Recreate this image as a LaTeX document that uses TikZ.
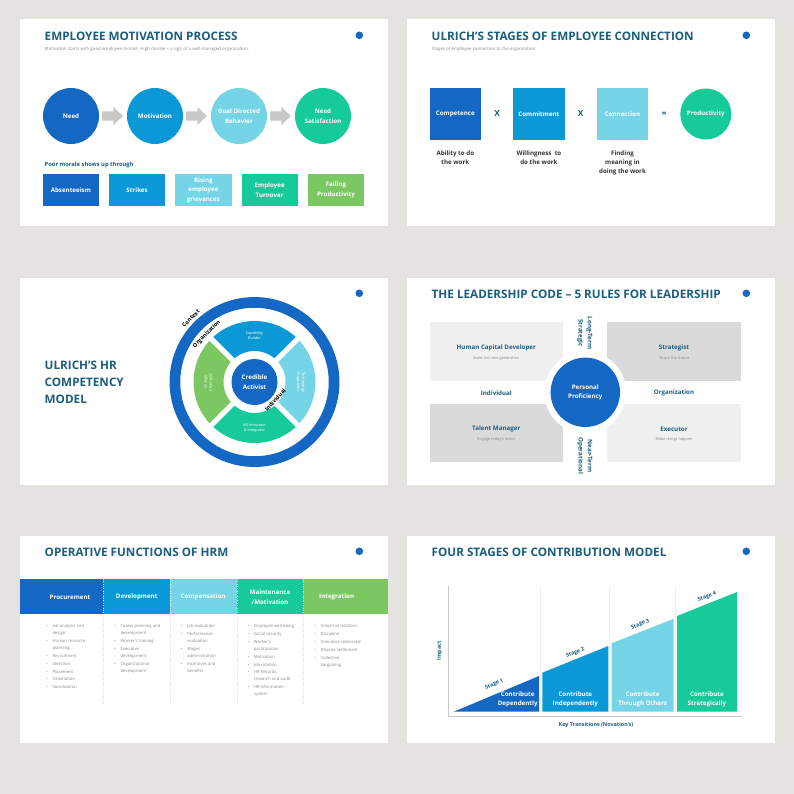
\documentclass[tikz,border=0pt]{standalone}
\usepackage{fontspec}
\setmainfont{Open Sans}
\usetikzlibrary{positioning}

\definecolor{cback}{HTML}{E4E3DF}
\definecolor{cdark}{HTML}{1468C3}
\definecolor{cmid}{HTML}{0A99D6}
\definecolor{clight}{HTML}{75D5E7}
\definecolor{cteal}{HTML}{17CA9A}
\definecolor{cgreen}{HTML}{7BC863}
\definecolor{ctitle}{HTML}{1B5E7E}
\definecolor{ctext}{HTML}{333333}
\definecolor{cnote}{HTML}{8A8A8A}
\definecolor{cpale}{HTML}{F0F0F0}
\definecolor{cgrey}{HTML}{DADADA}
\definecolor{carrow}{HTML}{C8C8C8}

\tikzset{
  slide/.style={fill=white},
  heading/.style={anchor=base west, inner sep=0, text=ctitle,
    font=\bfseries\fontsize{11.7}{16.8}\selectfont, align=left},
  subline/.style={anchor=base west, inner sep=0, text=cnote,
    font=\fontsize{4.4}{5}\selectfont},
  pagedot/.style={circle, fill=cdark, minimum size=7.6, inner sep=0},
  bold/.style={inner sep=0, align=center, font=\bfseries\fontsize{6.2}{9.4}\selectfont},
  ball/.style={bold, circle, minimum size=56, text=white},
  tile/.style={bold, minimum width=56.3, minimum height=31.7, text=white},
  block/.style={bold, minimum size=51.5, text=white},
  sign/.style={inner sep=0, text=ctitle, font=\bfseries\fontsize{8.4}{9}\selectfont},
  note/.style={bold, anchor=north, text=ctext},
  seglbl/.style={inner sep=0, align=center, text=white, font=\fontsize{3.8}{5}\selectfont},
  arclbl/.style={inner sep=0, text=black, font=\bfseries\fontsize{5.6}{6}\selectfont},
  cell/.style={minimum width=133.3, minimum height=58.4, inner sep=0},
  role/.style={bold, text=ctitle},
  hint/.style={inner sep=0, text=cnote, font=\fontsize{3.9}{5}\selectfont},
  items/.style={anchor=north west, inner sep=0, text=cnote,
    font=\fontsize{4.2}{7}\selectfont},
  stage/.style={inner sep=0, text=ctitle, rotate=22.5,
    font=\bfseries\fontsize{5.4}{6}\selectfont},
}

\begin{document}
\begin{tikzpicture}[x=1pt,y=-1pt,on grid]
\fill[cback] (0,0) rectangle (794,794);
\useasboundingbox (0,0) rectangle (794,794);

% employee motivation process
\begin{scope}[shift={(20,20)}]
  \fill[slide] (-0.5,-0.5) rectangle (367.5,206.5);
  \node[heading] (t1) at (24.5,20.2) {EMPLOYEE MOTIVATION PROCESS};
  \node[subline] (s1) at (24.5,30.5) {Motivation starts with good employee morale: High morale = a sign of a well-managed organization.};
  \node[pagedot] (p1) at (339.3,15.3) {};

  \node[ball, fill=cdark]                          (need)    at (51,96) {Need};
  \node[ball, fill=cmid,   right=84pt of need]     (motive)  {Motivation};
  \node[ball, fill=clight, right=84pt of motive]   (goal)    {Goal Directed\\Behavior};
  \node[ball, fill=cteal,  right=84pt of goal]     (satisfy) {Need\\Satisfaction};
  \foreach \a in {need,motive,goal}
    \fill[carrow] ([xshift=3pt]\a.east) ++(0,4.65) -- ++(11.2,0) -- ++(0,4.35)
      -- ++(9.5,-9) -- ++(-9.5,-9) -- ++(0,4.35) -- ++(-11.2,0) -- cycle;

  \node[anchor=base west, inner sep=0, text=ctitle, font=\bfseries\fontsize{5.8}{6}\selectfont]
    (poor) at (24.5,147) {Poor morale shows up through};
  \node[tile, fill=cdark]                          (absent) at (50.8,170) {Absenteeism};
  \node[tile, fill=cmid,   right=66.3pt of absent] (strike) {Strikes};
  \node[tile, fill=clight, right=66.3pt of strike] (griev)  {Rising\\employee\\grievances};
  \node[tile, fill=cteal,  right=66.3pt of griev]  (turn)   {Employee\\Turnover};
  \node[tile, fill=cgreen, right=66.3pt of turn]   (fail)   {Failing\\Productivity};
\end{scope}

% stages of employee connection
\begin{scope}[shift={(407,20)}]
  \fill[slide] (-0.5,-0.5) rectangle (367.5,206.5);
  \node[heading] (t2) at (24.5,20.2) {ULRICH’S STAGES OF EMPLOYEE CONNECTION};
  \node[subline] (s2) at (24.5,30.5) {Stages of employee connection to the organization};
  \node[pagedot] (p2) at (339.3,15.3) {};

  \node[block, fill=cdark]                          (compet)  at (48.3,94) {Competence};
  \node[block, fill=cmid,   right=83.6pt of compet] (commit)  {Commitment};
  \node[block, fill=clight, right=83.6pt of commit] (connect) {Connection};
  \node[bold, circle, fill=cteal, minimum size=51, text=white, right=83.3pt of connect] (product) {Productivity};
  \node[sign, right=41.8pt of compet]  (times1) {X};
  \node[sign, right=41.8pt of commit]  (times2) {X};
  \node[sign, right=41.8pt of connect] (equals) {=};

  \node[note] (n1) at (48.3,130.2)  {Ability to do\\the work};
  \node[note] (n2) at (131.9,130.2) {Willingness\ \ to\\do the work};
  \node[note] (n3) at (215.5,130.2) {Finding\\meaning in\\doing the work};
\end{scope}

% hr competency model
\begin{scope}[shift={(20,278)}]
  \fill[slide] (-0.5,-0.5) rectangle (367.5,206.5);
  \node[heading, anchor=north west] (t3) at (24.5,83) {ULRICH’S HR\\COMPETENCY\\MODEL};
  \node[pagedot] (p3) at (339.3,15.3) {};

  \begin{scope}[shift={(234.5,104)}, y=1pt]
    \foreach \a/\c in {90/cmid, 180/cgreen, 270/cteal, 0/clight}
      \fill[\c] (\a-45:31) arc[start angle=\a-45, end angle=\a+45, radius=31]
        -- (\a+45:61) arc[start angle=\a+45, end angle=\a-45, radius=61] -- cycle;
    \draw[white, line width=5pt] (45:65) -- (225:65) (135:65) -- (315:65);
    \draw[cdark, line width=10.7pt] (0,0) circle[radius=79.6];
    \node[bold, circle, fill=cdark, minimum size=46, text=white] (cred) at (0,0) {Credible\\Activist};

    \node[seglbl] (build) at (0,46) {Capability\\Builder};
    \node[seglbl, rotate=90] (change) at (-46,0) {Change\\Champion};
    \node[seglbl, rotate=-90] (tech) at (46,0) {Technology\\Proponent};
    \node[seglbl] (innov) at (0,-46) {HR Innovator\\\& Integrator};

    \node[arclbl, rotate=45] (context) at (135:90) {Context};
    \node[arclbl, rotate=45] (orgn) at (135:67.5) {Organization};
    \node[arclbl, rotate=48] (indiv) at (-41:27.5) {Individual};
  \end{scope}
\end{scope}

% leadership code
\begin{scope}[shift={(407,278)}]
  \fill[slide] (-0.5,-0.5) rectangle (367.5,206.5);
  \node[heading] (t4) at (24.5,20.2) {THE LEADERSHIP CODE – 5 RULES FOR LEADERSHIP};
  \node[pagedot] (p4) at (339.3,15.3) {};

  \node[cell, fill=cpale] (hcd)    at (89.35,73.5) {};
  \node[cell, fill=cgrey] (strat)  at (267,73.5) {};
  \node[cell, fill=cgrey] (talent) at (89.35,155) {};
  \node[cell, fill=cpale] (exec)   at (267,155) {};
  \fill[white] (178.3,114.3) circle[radius=41];
  \node[bold, circle, fill=cdark, minimum size=69.4, text=white] (core) at (178.3,114.3) {Personal\\Proficiency};

  \node[role] (hcdname) at (89.3,70) {Human Capital Developer};
  \node[hint, below=10pt of hcdname] (hcdtxt) {Build the next generation};
  \node[role] (stratname) at (267,70) {Strategist};
  \node[hint, below=10pt of stratname] (strattxt) {Shape the future};
  \node[role] (talentname) at (89.3,151) {Talent Manager};
  \node[hint, below=10pt of talentname] (talenttxt) {Engage today’s talent};
  \node[role] (execname) at (267,151) {Executor};
  \node[hint, below=10pt of execname] (exectxt) {Make things happen};

  \node[role] (indiv4) at (89.3,115.3) {Individual};
  \node[role] (org4) at (267,115.3) {Organization};
  \node[role, rotate=-90] (longterm) at (177.7,55) {Long-Term\\Strategic};
  \node[role, rotate=-90] (nearterm) at (177.7,178) {Near-Term\\Operational};
\end{scope}

% operative functions
\begin{scope}[shift={(20,536)}]
  \fill[slide] (-0.5,-0.5) rectangle (367.5,206.5);
  \node[heading] (t5) at (24.5,20.2) {OPERATIVE FUNCTIONS OF HRM};
  \node[pagedot] (p5) at (339.3,15.3) {};

  \fill[cdark]  (-0.5,42.7) rectangle (83.3,78.3);
  \fill[cmid]   (83.3,42.7) rectangle (150,78.3);
  \fill[clight] (150,42.7) rectangle (216.7,78.3);
  \fill[cteal]  (216.7,42.7) rectangle (283.3,78.3);
  \fill[cgreen] (283.3,42.7) rectangle (367.5,78.3);
  \foreach \x in {83.3,150,216.7,283.3} {
    \draw[white, dotted] (\x,42.7) -- (\x,78.3);
    \draw[cgrey, dotted] (\x,78.3) -- (\x,168);
  }
  \node[bold, text=white] (proc)  at (50,61.3)    {Procurement};
  \node[bold, text=white] (devel) at (116.7,61.3) {Development};
  \node[bold, text=white] (comp)  at (183.3,61.3) {Compensation};
  \node[bold, text=white] (maint) at (250,61.3)   {Maintenance\\/Motivation};
  \node[bold, text=white] (integ) at (316.7,61.3) {Integration};

  \node[items] (l1) at (26,86.8) {\begin{tabular}{@{}l@{\hspace{4.8pt}}l@{}}
    \textbullet & Job analysis and\\ & design\\[0.8pt]
    \textbullet & Human resource\\ & planning\\[0.8pt]
    \textbullet & Recruitment\\[0.8pt]
    \textbullet & Selection\\[0.8pt]
    \textbullet & Placement\\[0.8pt]
    \textbullet & Orientation\\[0.8pt]
    \textbullet & Socialization
  \end{tabular}};
  \node[items] (l2) at (94,86.8) {\begin{tabular}{@{}l@{\hspace{4.8pt}}l@{}}
    \textbullet & Career planning and\\ & development\\[0.8pt]
    \textbullet & Worker’s training\\[0.8pt]
    \textbullet & Executive\\ & development\\[0.8pt]
    \textbullet & Organizational\\ & development
  \end{tabular}};
  \node[items] (l3) at (160.7,86.8) {\begin{tabular}{@{}l@{\hspace{4.8pt}}l@{}}
    \textbullet & Job evaluation\\[0.8pt]
    \textbullet & Performance\\ & evaluation\\[0.8pt]
    \textbullet & Wages\\ & administration\\[0.8pt]
    \textbullet & Incentives and\\ & benefits
  \end{tabular}};
  \node[items] (l4) at (227.3,86.8) {\begin{tabular}{@{}l@{\hspace{4.8pt}}l@{}}
    \textbullet & Employee well-being\\[0.8pt]
    \textbullet & Social security\\[0.8pt]
    \textbullet & Worker’s\\ & participation\\[0.8pt]
    \textbullet & Motivation\\[0.8pt]
    \textbullet & Job rotation\\[0.8pt]
    \textbullet & HR Records,\\ & research and audit\\[0.8pt]
    \textbullet & HR information\\ & system
  \end{tabular}};
  \node[items] (l5) at (294,86.8) {\begin{tabular}{@{}l@{\hspace{4.8pt}}l@{}}
    \textbullet & Industrial relations\\[0.8pt]
    \textbullet & Discipline\\[0.8pt]
    \textbullet & Grievance redressed\\[0.8pt]
    \textbullet & Dispute settlement\\[0.8pt]
    \textbullet & Collective\\ & bargaining
  \end{tabular}};
\end{scope}

% four stages of contribution
\begin{scope}[shift={(407,536)}]
  \fill[slide] (-0.5,-0.5) rectangle (367.5,206.5);
  \node[heading] (t6) at (24.5,20.2) {FOUR STAGES OF CONTRIBUTION MODEL};
  \node[pagedot] (p6) at (339.3,15.3) {};

  \foreach \x in {133.3,202.7,268.7}
    \draw[cpale, line width=0.8pt] (\x,50) -- (\x,180);
  \draw[cgrey!80!gray, line width=0.8pt] (41.7,50) -- (41.7,180) -- (335,180);

  \fill[cdark]  (46.7,175.7) -- (132,175.7) -- (132,140) -- cycle;
  \fill[cmid]   (135.3,175.7) -- (201.3,175.7) -- (201.3,110) -- (135.3,136.7) -- cycle;
  \fill[clight] (204.7,175.7) -- (266.7,175.7) -- (266.7,82.7) -- (204.7,107.3) -- cycle;
  \fill[cteal]  (270,175.7) -- (330,175.7) -- (330,56) -- (270,80) -- cycle;

  \node[stage] (st1) at (87.3,148.3) {Stage 1};
  \node[stage] (st2) at (168.3,116.7) {Stage 2};
  \node[stage] (st3) at (233.3,88.3) {Stage 3};
  \node[stage] (st4) at (300,61) {Stage 4};

  \node[bold, text=white] (dep)   at (110.7,163.3) {Contribute\\Dependently};
  \node[bold, text=white] (indep) at (168.3,163.3) {Contribute\\Independently};
  \node[bold, text=white] (thru)  at (235.7,163.3) {Contribute\\Through Others};
  \node[bold, text=white] (strg)  at (300,163.3)   {Contribute\\Strategically};

  \node[role, rotate=90, font=\bfseries\fontsize{5.4}{6}\selectfont] (impact) at (32.7,115) {Impact};
  \node[role, font=\bfseries\fontsize{5.4}{6}\selectfont] (keytr) at (189,189.3) {Key Transitions (Novation’s)};
\end{scope}
\end{tikzpicture}
\end{document}
